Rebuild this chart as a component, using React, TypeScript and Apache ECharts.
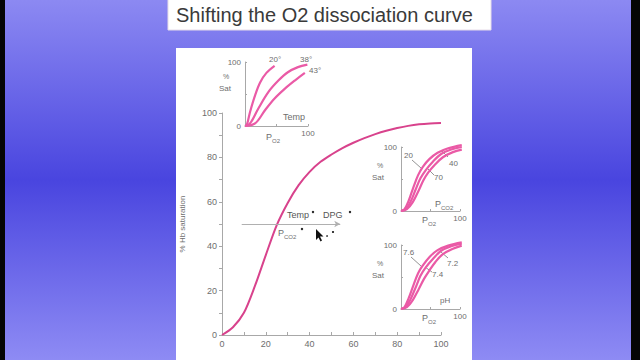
import React, { useEffect, useRef } from "react";
import * as echarts from "echarts";

// Main curve: % Hb saturation vs PO2
const mainPO2 = [0, 5, 10, 15, 20, 25, 30, 35, 40, 45, 50, 55, 60, 65, 70, 75, 80, 85, 90, 95, 100];
const mainSat = [0, 3.5, 10, 22, 36, 49.5, 59.5, 67.5, 73.5, 78, 81.3, 84.2, 86.6, 88.7, 90.5, 92, 93.2, 94.2, 94.9, 95.3, 95.5];

// Temperature inset curves
const temp20 = [[0, 0], [3, 2], [8, 22], [16, 48], [24, 68], [34, 83], [47, 94]];
const temp38 = [[0, 0], [8, 4], [21, 27], [37, 53], [53, 71], [68, 84], [84, 92], [99, 96]];
const temp43 = [[0, 0], [16, 4], [32, 25], [47, 43], [63, 58], [79, 71], [95, 83]];

// PCO2 inset curves
const pco2_20 = [[0, 0], [6, 3], [13, 16], [21, 37], [29, 56], [37, 69], [48, 81], [62, 91], [80, 98], [103, 103]];
const pco2_40 = [[0, 0], [8, 3], [16, 14], [25, 34], [33, 51], [42, 64], [54, 77], [68, 89], [85, 96], [103, 100]];
const pco2_70 = [[0, 0], [10, 3], [20, 14], [30, 32], [38, 48], [46, 60], [57, 72], [71, 84], [88, 92], [103, 96]];

// pH inset curves
const ph76 = [[0, 0], [6, 3], [13, 17], [21, 37], [29, 56], [37, 68], [48, 81], [62, 92], [80, 99], [103, 104]];
const ph74 = [[0, 0], [8, 3], [16, 15], [25, 34], [33, 52], [42, 65], [54, 78], [68, 91], [85, 98], [103, 102]];
const ph72 = [[0, 0], [10, 3], [20, 14], [30, 31], [39, 47], [48, 60], [58, 73], [70, 85], [88, 94], [103, 99]];

const GRAY = "#a8a8a8";
const LBL = "#6e6e6e";
const PINK = "#d8428c";
const PINK2 = "#ea5aa6";
const FONT = "Liberation Sans, Arial, sans-serif";

const subRich = {
  p: { fontSize: 9, fill: LBL, fontFamily: FONT, lineHeight: 12, verticalAlign: "top" },
  s: { fontSize: 6, fill: LBL, fontFamily: FONT, lineHeight: 12, verticalAlign: "bottom" },
};

function insetAxes(gi: number) {
  const x = {
    type: "value", gridIndex: gi, min: 0, max: 100, interval: 50,
    axisLine: { lineStyle: { color: GRAY, width: 1 } },
    axisTick: { inside: true, length: 2, lineStyle: { color: GRAY } },
    splitLine: { show: false },
    axisLabel: { fontSize: 8, color: LBL, fontFamily: FONT, margin: 3, showMinLabel: false,
      formatter: (v: number) => (v === 100 ? "100" : "") },
  };
  const y = {
    type: "value", gridIndex: gi, min: 0, max: 100, interval: 50,
    axisLine: { show: true, lineStyle: { color: GRAY, width: 1 } },
    axisTick: { show: true, inside: true, length: 2, lineStyle: { color: GRAY } },
    splitLine: { show: false },
    axisLabel: { fontSize: 8, color: LBL, fontFamily: FONT, margin: 4,
      formatter: (v: number) => (v === 50 ? "" : String(v)) },
  };
  return { x, y };
}

function curve(data: number[][], gi: number) {
  return {
    type: "line", xAxisIndex: gi, yAxisIndex: gi, data, smooth: 0.35,
    symbol: "none", clip: false, lineStyle: { color: PINK2, width: 2.2 }, silent: true, z: 3,
  };
}

function txt(x: number, y: number, text: string, fontSize = 8, extra: any = {}) {
  return { type: "text", x, y, style: { text, fontSize, fill: LBL, fontFamily: FONT, ...extra } };
}
function sub(x: number, y: number, main: string, s: string) {
  return {
    type: "text", x, y,
    style: { text: `{p|${main}}{s|${s}}`, rich: subRich, fontFamily: FONT },
  };
}
function lead(x1: number, y1: number, x2: number, y2: number) {
  return { type: "line", shape: { x1, y1, x2, y2 }, style: { stroke: "#777", lineWidth: 0.8 } };
}
function dot(cx: number, cy: number, r = 1.2) {
  return { type: "circle", shape: { cx, cy, r }, style: { fill: "#222" } };
}

export default function App() {
  const ref = useRef<HTMLDivElement>(null);
  useEffect(() => {
    const chart = echarts.init(ref.current!, null, { renderer: "svg" });
    const a1 = insetAxes(1), a2 = insetAxes(2), a3 = insetAxes(3);
    chart.setOption({
      animation: false,
      grid: [
        { left: 222, top: 113, width: 219, height: 222 },
        { left: 245, top: 62, width: 63, height: 64 },
        { left: 401, top: 147, width: 59, height: 64 },
        { left: 401, top: 245, width: 59, height: 64 },
      ],
      xAxis: [
        {
          type: "value", gridIndex: 0, min: 0, max: 100, interval: 20,
          minorTick: { show: true, splitNumber: 2, length: 3, lineStyle: { color: GRAY } },
          axisLine: { lineStyle: { color: GRAY } },
          axisTick: { inside: true, length: 3, lineStyle: { color: GRAY } },
          splitLine: { show: false },
          axisLabel: { fontSize: 9, color: LBL, fontFamily: FONT, margin: 4 },
        },
        a1.x, a2.x, a3.x,
      ],
      yAxis: [
        {
          type: "value", gridIndex: 0, min: 0, max: 100, interval: 20,
          minorTick: { show: true, splitNumber: 2, length: 3, lineStyle: { color: GRAY } },
          axisLine: { show: true, lineStyle: { color: GRAY } },
          axisTick: { show: true, length: 3, lineStyle: { color: GRAY } },
          splitLine: { show: false },
          axisLabel: { fontSize: 9, color: LBL, fontFamily: FONT, margin: 5 },
          name: "% Hb saturation", nameLocation: "middle", nameGap: 36,
          nameTextStyle: { fontSize: 8, color: LBL, fontFamily: FONT },
        },
        a1.y, a2.y, a3.y,
      ],
      series: [
        {
          type: "line", xAxisIndex: 0, yAxisIndex: 0, smooth: 0.3, symbol: "none",
          data: mainPO2.map((x, i) => [x, mainSat[i]]),
          lineStyle: { color: PINK, width: 2 }, z: 3,
          markLine: {
            silent: true, symbol: ["none", "arrow"], symbolSize: [5, 6],
            label: { show: false },
            lineStyle: { color: "#b0b0b0", width: 1, type: "solid" },
            data: [[{ coord: [9, 50] }, { coord: [54, 50] }]],
          },
        },
        curve(temp20, 1), curve(temp38, 1), curve(temp43, 1),
        curve(pco2_20, 2), curve(pco2_40, 2), curve(pco2_70, 2),
        curve(ph76, 3), curve(ph74, 3), curve(ph72, 3),
      ],
      graphic: [
        {
          type: "rect", z: -20, shape: { x: 5, y: 0, width: 626, height: 360 },
          style: {
            fill: new echarts.graphic.LinearGradient(0, 0, 0, 1, [
              { offset: 0, color: "#8c89f2" },
              { offset: 0.5, color: "#4945df" },
              { offset: 1, color: "#8e8bf4" },
            ]),
          },
        },
        { type: "rect", z: -20, shape: { x: 0, y: 0, width: 5, height: 360 }, style: { fill: "#050505" } },
        { type: "rect", z: -20, shape: { x: 631, y: 0, width: 9, height: 360 }, style: { fill: "#050505" } },
        { type: "rect", z: -10, shape: { x: 168, y: -1, width: 323, height: 31 }, style: { fill: "#ffffff", stroke: "#e6dce8", lineWidth: 1 } },
        { type: "rect", z: -10, shape: { x: 176, y: 48, width: 296, height: 320 }, style: { fill: "#ffffff" } },
        { type: "text", x: 176, y: 5, style: { text: "Shifting the O2 dissociation curve", fontSize: 20, fill: "#3a3a3a", fontFamily: FONT } },

        // top inset annotations
        txt(269, 55, "20°", 8),
        txt(300, 55, "38°", 8),
        txt(309, 66, "43°", 8),
        txt(223, 73, "%", 7),
        txt(219, 84, "Sat", 8),
        txt(283, 112, "Temp", 9),
        sub(266, 132, "P", "O2"),

        // PCO2 inset
        txt(377, 162, "%", 7),
        txt(372, 173, "Sat", 8),
        txt(404, 151, "20", 8),
        txt(449, 159, "40", 8),
        txt(434, 173, "70", 8),
        lead(412, 160, 421, 168),
        lead(441, 150, 448, 157),
        lead(427, 168, 434, 175),
        sub(435, 199, "P", "CO2"),
        sub(422, 215, "P", "O2"),

        // pH inset
        txt(377, 260, "%", 7),
        txt(372, 271, "Sat", 8),
        txt(403, 248, "7.6", 8),
        txt(447, 259, "7.2", 8),
        txt(432, 270, "7.4", 8),
        lead(411, 257, 421, 266),
        lead(441, 252, 448, 258),
        lead(425, 267, 432, 272),
        txt(440, 296, "pH", 8),
        sub(422, 313, "P", "O2"),

        // main annotations
        txt(287, 210, "Temp", 9, { fill: "#555" }),
        dot(313, 212),
        txt(323, 210, "DPG", 9, { fill: "#555" }),
        dot(350, 212),
        sub(278, 228, "P", "CO2"),
        dot(302, 229),
        {
          type: "polygon", shape: { points: [[316, 229], [316, 240], [318.5, 237.5], [320.5, 241.5], [322, 240.5], [320, 236.5], [323.5, 236.5]] },
          style: { fill: "#111" },
        },
        dot(327, 236, 0.8),
        dot(333, 232, 1.1),
      ],
    });
    return () => chart.dispose();
  }, []);
  return <div ref={ref} style={{ position: "absolute", left: 0, top: 0, width: 640, height: 360 }} />;
}
